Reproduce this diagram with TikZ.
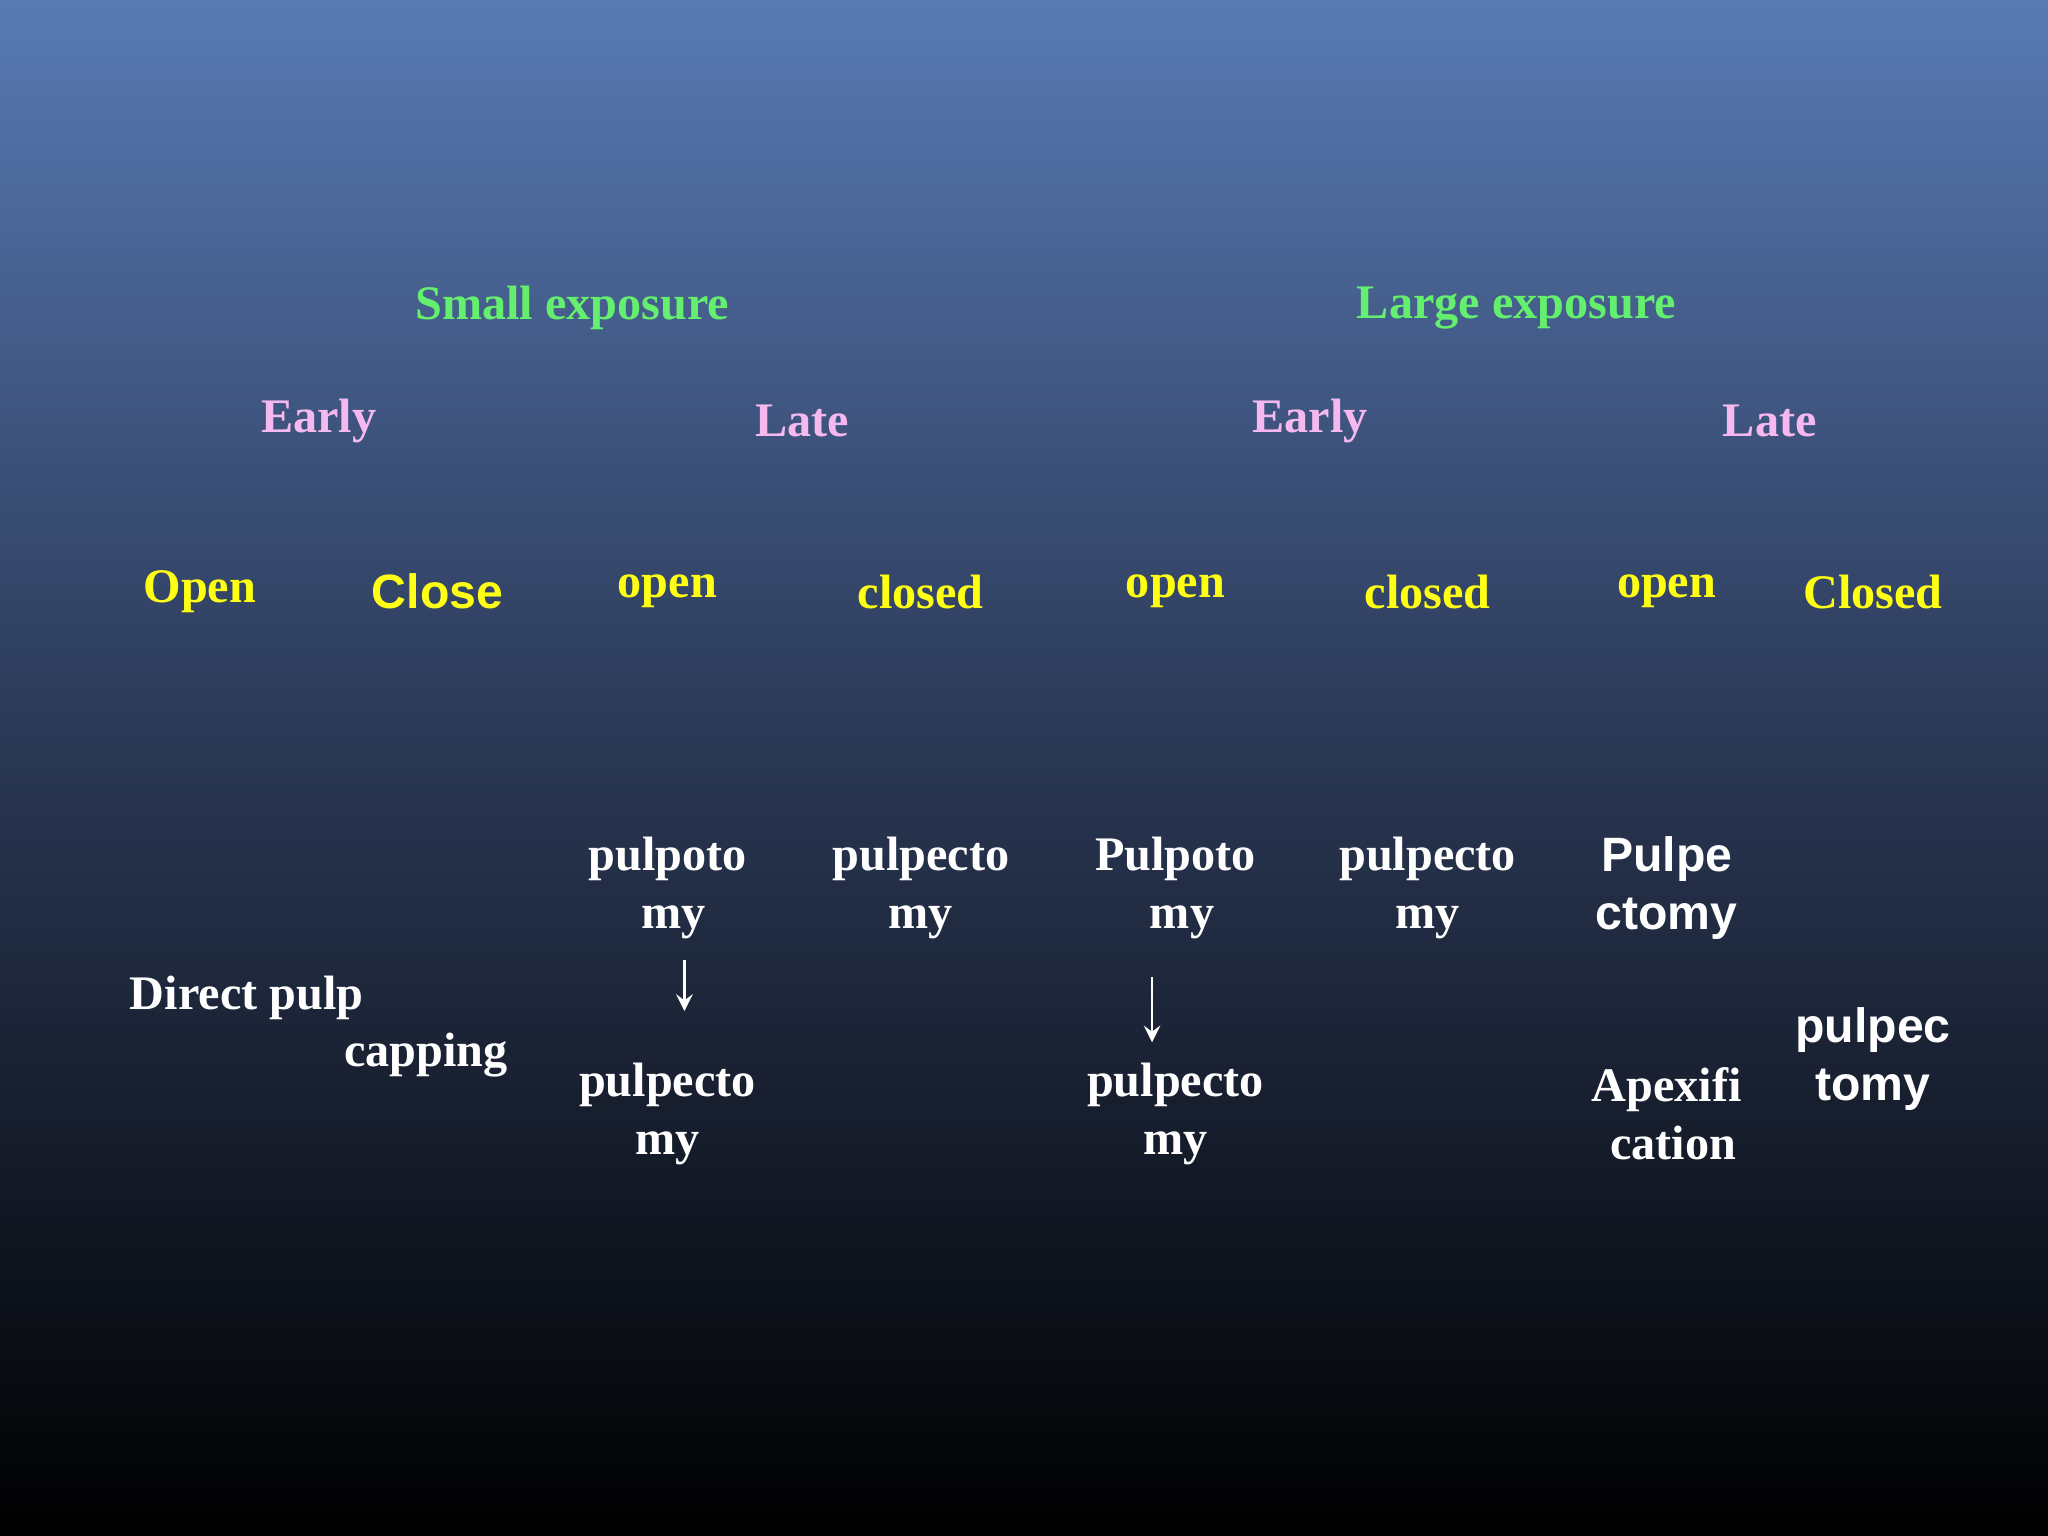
\documentclass[tikz,border=0pt]{standalone}
\usepackage{fontspec}
\setmainfont{Liberation Serif}
\newfontfamily\sansb{Liberation Sans}
\definecolor{gr}{RGB}{100,240,110}
\definecolor{pk}{RGB}{245,185,240}
\definecolor{yl}{RGB}{255,255,20}
\definecolor{bgtop}{RGB}{88,122,180}
\definecolor{bgmid}{RGB}{44,58,88}
\begin{document}
\begin{tikzpicture}[x=1cm,y=1cm,
  t/.style={font=\fontsize{10.5}{12.6}\selectfont\bfseries, align=center, inner sep=0pt},
  ts/.style={font=\fontsize{10.5}{12.6}\selectfont\sansb\bfseries, align=center, inner sep=0pt},
  arr/.style={white, -stealth, line width=0.6pt}]
\shade[top color=bgtop, bottom color=bgmid] (0,0) rectangle (15.68,-5.5);
\shade[top color=bgmid, bottom color=black] (0,-5.5) rectangle (15.68,-11.76);
\useasboundingbox (0,0) rectangle (15.68,-11.76);
\node[t,gr] (se) at (4.38,-2.36) {Small exposure};
\node[t,gr] (le) at (11.61,-2.36) {Large exposure};
\node[t,pk] (e1) at (2.44,-3.22) {Early};
\node[t,pk] (l1) at (6.14,-3.22) {Late};
\node[t,pk] (e2) at (10.03,-3.22) {Early};
\node[t,pk] (l2) at (13.55,-3.22) {Late};
\node[t,yl] (o1) at (1.53,-4.53) {Open};
\node[ts,yl] (c1) at (3.35,-4.53) {Close};
\node[t,yl] (o2) at (5.11,-4.53) {open};
\node[t,yl] (c2) at (7.05,-4.53) {closed};
\node[t,yl] (o3) at (9.00,-4.53) {open};
\node[t,yl] (c3) at (10.93,-4.53) {closed};
\node[t,yl] (o4) at (12.76,-4.53) {open};
\node[t,yl] (c4) at (14.34,-4.53) {Closed};
\node[t,white,align=left] (dpc) at (2.44,-7.86) {Direct pulp\\\hspace*{1.64cm}capping};
\node[t,white] (p1) at (5.11,-6.80) {pulpoto\\\hspace*{0.1cm}my};
\node[t,white] (p2) at (7.05,-6.80) {pulpecto\\my};
\node[t,white] (p3) at (9.00,-6.80) {Pulpoto\\\hspace*{0.1cm}my};
\node[t,white] (p4) at (10.93,-6.80) {pulpecto\\my};
\node[ts,white] (p5) at (12.76,-6.80) {Pulpe\\ctomy};
\node[t,white] (q1) at (5.11,-8.53) {pulpecto\\my};
\node[t,white] (q3) at (9.00,-8.53) {pulpecto\\my};
\node[t,white] (q5) at (12.76,-8.53) {Apexifi\\\hspace*{0.1cm}cation};
\node[ts,white] (q6) at (14.34,-8.11) {pulpec\\tomy};
\coordinate (a1s) at (5.24,-7.35); \coordinate (a1e) at (5.24,-7.74);
\coordinate (a2s) at (8.82,-7.48); \coordinate (a2e) at (8.82,-7.98);
\draw[arr] (a1s) -- (a1e);
\draw[arr] (a2s) -- (a2e);
\end{tikzpicture}
\end{document}
